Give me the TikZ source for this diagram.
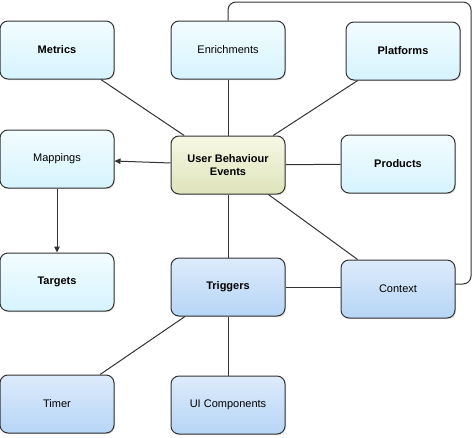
\documentclass[tikz,border=0pt]{standalone}
\usepackage{fontspec}
\setmainfont{Liberation Sans}
\usepackage{tikz}
\usetikzlibrary{arrows.meta,shadows}
\definecolor{boxline}{HTML}{333333}
\definecolor{cyantop}{HTML}{F2FCFF}
\definecolor{cyanbot}{HTML}{D6F3FD}
\definecolor{bluetop}{HTML}{DDEBFB}
\definecolor{bluebot}{HTML}{B6D5F6}
\definecolor{evtop}{HTML}{F6F8E4}
\definecolor{evbot}{HTML}{DEE4BA}

\tikzset{
  box/.style={draw=boxline, line width=1pt, rounded corners=8pt,
    minimum width=114pt, minimum height=58pt, align=center,
    font=\fontsize{11}{13}\selectfont,
    drop shadow={shadow xshift=1pt, shadow yshift=-1.2pt, opacity=0.25},
    top color=cyantop, bottom color=cyanbot},
  bluebox/.style={box, top color=bluetop, bottom color=bluebot},
  eventbox/.style={box, top color=evtop, bottom color=evbot},
  link/.style={draw=boxline, line width=1pt},
  flow/.style={link, -{Triangle[length=6pt,width=5.5pt]}}
}

\begin{document}
\begin{tikzpicture}[x=1pt, y=-1pt]
			\useasboundingbox (0,0) rectangle (474,437);
			\node[box] (metrics) at (57,50) {\textbf{Metrics}};
			\node[box] (enrichments) at (228,50) {Enrichments};
			\node[box] (platforms) at (403,51) {\textbf{Platforms}};
			\node[box] (mappings) at (57,159) {Mappings};
			\node[eventbox] (events) at (228,165) {\textbf{User Behaviour}\\\textbf{Events}};
			\node[box] (products) at (398,164) {\textbf{Products}};
			\node[box] (targets) at (57,282) {\textbf{Targets}};
			\node[bluebox] (triggers) at (228,287) {\textbf{Triggers}};
			\node[bluebox] (context) at (398,289) {Context};
			\node[bluebox] (timer) at (57,404) {Timer};
			\node[bluebox] (components) at (228,405) {UI Components};
			\coordinate (topleft) at (228,2);
			\coordinate (topright) at (471,2);
			\coordinate (botright) at (471,284);
			\coordinate (ctxin) at (455,284);
			\draw[link] (metrics) -- (events);
			\draw[link] (enrichments) -- (events);
			\draw[link] (platforms) -- (events);
			\draw[link] (products) -- (events);
			\draw[link] (context) -- (events);
			\draw[link] (triggers) -- (events);
			\draw[link] (triggers.east) -- (triggers.east -| context.west);
			\draw[link] (triggers) -- (timer);
			\draw[link] (triggers) -- (components);
			\draw[flow] (events) -- (mappings);
			\draw[flow] (mappings) -- (targets);
			\draw[link, rounded corners=8pt] (enrichments.north) -- (topleft) -- (topright) -- (botright) -- (ctxin);
		\end{tikzpicture}
\end{document}
